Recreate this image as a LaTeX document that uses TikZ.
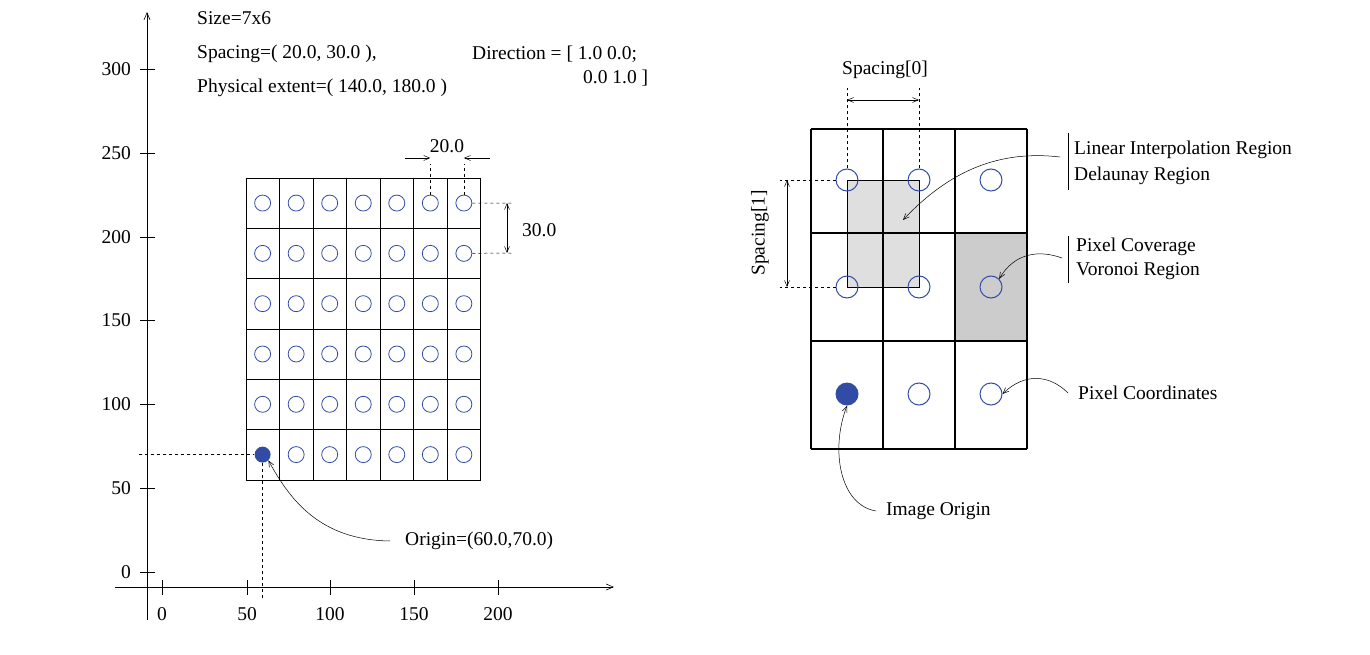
\documentclass[tikz,border=0pt]{standalone}
\usepackage{fontspec}
\setmainfont{Liberation Serif}
\usetikzlibrary{arrows.meta}
\definecolor{pb}{RGB}{50,75,165}
\begin{document}
\begin{tikzpicture}[x=1pt,y=-1pt,font=\fontsize{19.5}{22}\selectfont,
 ax/.style={-{Straight Barb[length=7pt,width=6pt]},line width=0.6pt},
 dim/.style={{Straight Barb[length=6pt,width=5pt]}-{Straight Barb[length=6pt,width=5pt]},line width=0.5pt},
 arr/.style={-{Straight Barb[length=6pt,width=5pt]},line width=0.5pt},
 dsh/.style={dashed,line width=0.5pt},
 pix/.style={circle,draw=pb,line width=0.8pt,minimum size=16pt,inner sep=0pt},
 pixb/.style={circle,draw=pb,line width=1pt,minimum size=22pt,inner sep=0pt},
 txt/.style={anchor=west,inner sep=0pt}]
\useasboundingbox (0,0) rectangle (1370,655);
% axes
\coordinate (ya) at (147,620); \coordinate (yb) at (147,12);
\coordinate (xa) at (115,587); \coordinate (xb) at (614,587);
\draw[ax] (ya) -- (yb);
\draw[ax] (xa) -- (xb);
\foreach \v/\y in {0/572,50/488,100/404,150/320,200/237,250/153,300/69}{
 \draw[line width=0.5pt] (140,\y) -- (155,\y);
 \node[anchor=east,inner sep=0pt] at (131,\y) {\v};}
\foreach \v/\x in {0/162,50/247,100/330,150/414,200/498}{
 \draw[line width=0.5pt] (\x,580) -- (\x,595);
 \node[inner sep=0pt] at (\x,614) {\v};}
% grid
\begin{scope}[shift={(162,572)},x=1.677pt,y=1.677pt]
 \foreach \i in {0,...,7} \draw[line width=0.5pt] (50+20*\i,55) -- (50+20*\i,235);
 \foreach \j in {0,...,6} \draw[line width=0.5pt] (50,55+30*\j) -- (190,55+30*\j);
 \foreach \i in {0,...,6} \foreach \j in {0,...,5}{
   \ifnum\i\j=00 \node[circle,fill=pb,minimum size=16pt,inner sep=0pt] (o) at (60+20*\i,70+30*\j) {};
   \else \node[pix] (p\i\j) at (60+20*\i,70+30*\j) {};\fi}
 \coordinate (od1) at (-14,70); \coordinate (od2) at (60,-17);
\end{scope}
\draw[dsh] (od1) -- (o.west);
\draw[dsh] (o.south) -- (od2);
\draw[dsh] (p55.north) -- (p55.north |- 0,164);
\draw[dsh] (p65.north) -- (p65.north |- 0,164);
\coordinate (l1) at (405,158); \coordinate (l2) at (490,158);
\draw[arr] (l1) -- (p55.north |- l1);
\draw[arr] (l2) -- (p65.north |- l2);
\node[inner sep=0pt] at (447,146) {20.0};
\draw[dsh] (p65.east) -- (512,203);
\draw[dsh] (p64.east) -- (512,253);
\coordinate (v1) at (507,203); \coordinate (v2) at (507,253);
\draw[dim] (v1) -- (v2);
\node[txt] at (522,230) {30.0};
\node[txt] at (197,18) {Size=7x6};
\node[txt] at (197,54) {Spacing=( 20.0, 30.0 ),};
\node[txt] at (197,88) {Physical extent=( 140.0, 180.0 )};
\node[txt] at (472,54) {Direction = [ 1.0 0.0;};
\node[txt] at (583,78) {0.0 1.0 ]};
\node[txt] (ol) at (405,541) {Origin=(60.0,70.0)};
\draw[arr] ([xshift=-15pt]ol.west) .. controls (320,540) and (290,500) .. (o.south east);
% right
\fill[gray!25] (847,180) rectangle (919,287);
\draw[line width=0.5pt] (847,180) rectangle (919,287);
\fill[gray!40] (955,233) rectangle (1027,341);
\foreach \x in {811,883,955,1027} \draw[line width=1.2pt] (\x,129) -- (\x,449);
\foreach \y in {129,233,341,449} \draw[line width=1.2pt] (811,\y) -- (1027,\y);
\foreach \x/\n in {847/1,919/2,991/3}{
 \node[pixb] (r\n a) at (\x,180) {};
 \node[pixb] (r\n b) at (\x,287) {};}
\node[pixb] (r2c) at (919,394) {};
\node[pixb] (r3c) at (991,394) {};
\node[circle,fill=pb,minimum size=23pt,inner sep=0pt] (ro) at (847,394) {};
\node[inner sep=0pt] at (885,70) {Spacing[0]};
\draw[dsh] (r1a.north) -- (847,88);
\draw[dsh] (r2a.north) -- (919,88);
\coordinate (s1) at (847,100); \coordinate (s2) at (919,100);
\draw[dim] (s1) -- (s2);
\node[rotate=90,inner sep=0pt] at (760,233) {Spacing[1]};
\draw[dsh] (r1a.west) -- (780,180);
\draw[dsh] (r1b.west) -- (780,287);
\coordinate (t1) at (787,180); \coordinate (t2) at (787,287);
\draw[dim] (t1) -- (t2);
\draw[line width=0.5pt] (1068,133) -- (1068,190);
\node[txt] at (1074,150) {Linear Interpolation Region};
\node[txt] at (1074,176) {Delaunay Region};
\coordinate (c1) at (1060,157); \coordinate (c1e) at (903,220);
\draw[arr] (c1) .. controls (1000,150) and (950,170) .. (c1e);
\draw[line width=0.5pt] (1068,236) -- (1068,283);
\node[txt] at (1076,247) {Pixel Coverage};
\node[txt] at (1076,271) {Voronoi Region};
\coordinate (c2) at (1062,258);
\draw[arr] (c2) .. controls (1040,250) and (1015,252) .. (r3b.north east);
\node[txt] (pc) at (1078,393) {Pixel Coordinates};
\draw[arr] ([xshift=-10pt]pc.west) .. controls (1050,375) and (1025,372) .. (r3c.east);
\node[txt] (io) at (886,511) {Image Origin};
\draw[arr] ([xshift=-10pt]io.west) .. controls (840,505) and (830,450) .. (ro.south);
\end{tikzpicture}
\end{document}
